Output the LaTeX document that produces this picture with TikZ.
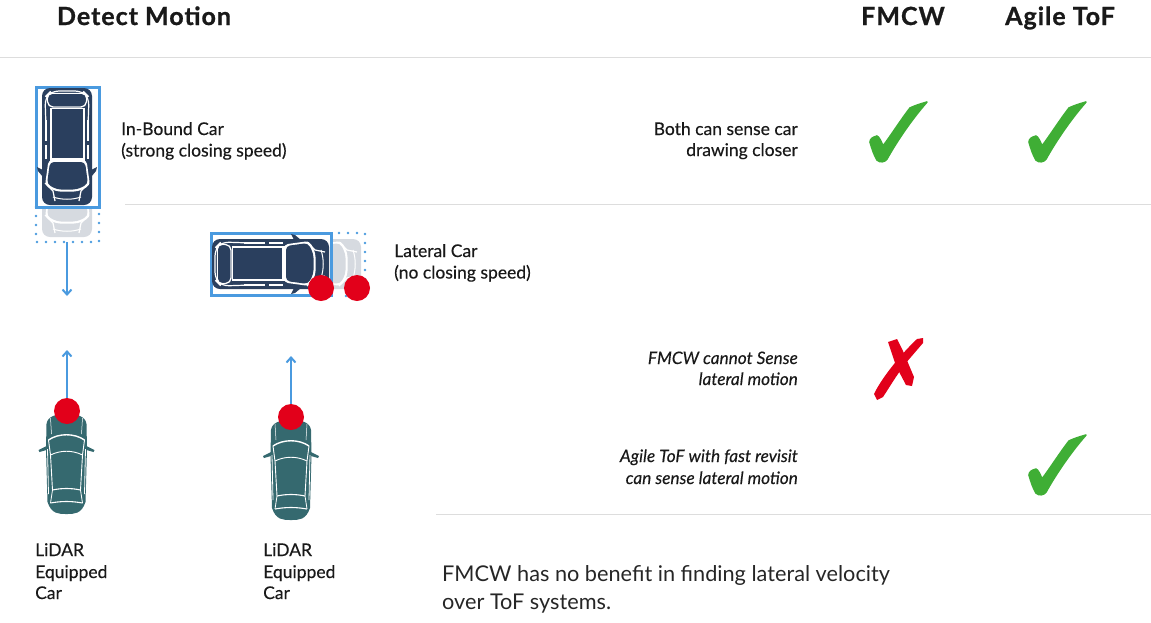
\documentclass[tikz,border=0pt]{standalone}
\usepackage{fontspec}
\setmainfont{Lato}
\newfontfamily\medf{Lato}[FakeBold=0.35]
\newfontfamily\medit{Lato Italic}[FakeBold=0.25]
\newfontfamily\headf{Lato Bold}[FakeBold=0.9,LetterSpace=4]
\usetikzlibrary{arrows.meta}
\definecolor{navy}{HTML}{2A3F5E}
\definecolor{ghostc}{HTML}{D6DAE0}
\definecolor{teal}{HTML}{35696F}
\definecolor{bluec}{HTML}{4A9ADF}
\definecolor{redc}{HTML}{E2001A}
\definecolor{greenc}{HTML}{3FAE35}
\definecolor{rulec}{HTML}{DDDDDD}
\tikzset{
  x=1pt,y=-1pt,
  every node/.style={inner sep=0pt},
  head/.style={anchor=base,font=\fontsize{25}{25}\headf,text=black!90},
  lbl/.style={anchor=base west,font=\fontsize{17.5}{17.5}\medf,text=black!90},
  rlbl/.style={anchor=base east,font=\fontsize{17.5}{17.5}\medf,text=black!90},
  ilbl/.style={anchor=base east,font=\fontsize{17.2}{17.2}\medit,text=black!90},
  foot/.style={anchor=base west,font=\fontsize{21.7}{21.7}\selectfont,text=black!85},
  hrule/.style={draw=rulec,line width=0.9pt},
  sensebox/.style={draw=bluec,line width=3pt,inner sep=0pt,fill=white},
  dots/.style={draw=bluec,line width=2.8pt,line cap=round,dash pattern=on 0pt off 9pt},
  flow/.style={draw=bluec,line width=2pt,-{Straight Barb[length=5pt,width=9pt,line width=2pt]}},
  dot/.style={circle,fill=redc,inner sep=0pt,minimum size=26pt},
  pics/suv/.style={code={
    \fill[#1] (-24,23) -- (-30,20) -- (-29,24) -- (-24,30) -- cycle;
    \fill[#1] (24,23) -- (30,20) -- (29,24) -- (24,30) -- cycle;
    \fill[#1,rounded corners=8pt] (-25,-59) rectangle (25,58);
    % white frame around the cabin
    \draw[white,line width=1.2pt,rounded corners=8pt] (-21,-20) -- (-22,-50) -- (-16,-56) -- (16,-56) -- (22,-50) -- (21,-20);
    \draw[white,line width=1.3pt,rounded corners=5pt] (-20,-53.5) -- (20,-53.5) -- (19,-40) -- (-19,-40) -- cycle;
    \fill[#1,rounded corners=5pt] (-19,-53) -- (19,-53) -- (18,-41) -- (-18,-41) -- cycle;
    \fill[white] (-17,-39) rectangle (18,13.5);
    \fill[#1] (-15,-38) rectangle (16,11);
    \fill[white,rounded corners=4pt] (-18.5,13) -- (19.5,13) -- (23,38.5) -- (11,44.5) -- (-11,44.5) -- (-22,38.5) -- cycle;
    \fill[#1,rounded corners=4pt] (-17,15) -- (18,15) -- (21,37) -- (10,42.5) -- (-10,42.5) -- (-20,37) -- cycle;
    \draw[white,line width=1.8pt] (-21,-27) -- (-21,-6) (-21,-2) -- (-21,12) (21,-27) -- (21,-6) (21,-2) -- (21,12);
    % front end
    \draw[white,line width=1.2pt] (-22,36) -- (-14,44) -- (-12,54) (22,36) -- (14,44) -- (12,54);
    \draw[white,line width=1pt] (-14,50) .. controls (-5,53) and (5,53) .. (14,50);
  }},
  pics/sedan/.style={code={
    \fill[teal] (-20,-18) -- (-28,-14) -- (-27,-12) -- (-20,-14) -- cycle;
    \fill[teal] (20,-18) -- (28,-14) -- (27,-12) -- (20,-14) -- cycle;
    \fill[teal] (-20,-40) .. controls (-19,-48) and (-10,-50) .. (0,-50) .. controls (10,-50) and (19,-48) .. (20,-40)
      -- (20.5,-15) -- (19,38) .. controls (15,50) and (8,50) .. (0,50) .. controls (-8,50) and (-15,50) .. (-19,38) -- (-20.5,-15) -- cycle;
    \draw[white,line width=1.4pt] (-18,-24) .. controls (-8,-31) and (8,-31) .. (18,-24);
    \draw[white,line width=.9pt] (-16,-9) .. controls (-6,-14) and (6,-14) .. (16,-9);
    \draw[white,line width=.9pt] (-18,-24) -- (-16,-9) -- (-14,26) (18,-24) -- (16,-9) -- (14,26);
    \draw[white,line width=1.1pt] (-14,26) .. controls (-5,24) and (5,24) .. (14,26);
    \draw[white,line width=1.1pt] (-16,39) .. controls (-5,37) and (5,37) .. (16,39);
    \draw[white,line width=.8pt] (-14,26) -- (-16,39) (14,26) -- (16,39);
    \draw[white,line width=.8pt] (-19,-15) -- (-18,30) (19,-15) -- (18,30);
    \draw[white,line width=.5pt] (-16,-46) -- (-15,-30) (16,-46) -- (15,-30);
  }},
  pics/tick/.style={code={
    \fill[greenc,draw=greenc,line width=1.6pt,line join=round] (57,1) .. controls (50,3) and (44,5) .. (40,7) .. controls (30,20) and (22,33) .. (13,45)
      .. controls (11,40) and (9,36) .. (7,35) .. controls (3,36) and (0,38) .. (0,41)
      .. controls (2,48) and (4,54) .. (7,59) .. controls (10,62) and (15,61) .. (17,58)
      .. controls (27,40) and (42,18) .. (57,1) -- cycle;
  }}
}
\begin{document}
\begin{tikzpicture}
\useasboundingbox (0,0) rectangle (1151,622);
% rules
\coordinate (r1a) at (0,57); \coordinate (r1b) at (1151,57);
\coordinate (r2a) at (125,204); \coordinate (r2b) at (1151,204);
\coordinate (r3a) at (436,514); \coordinate (r3b) at (1151,514);
\draw[hrule] (r1a) -- (r1b);
\draw[hrule] (r2a) -- (r2b);
\draw[hrule] (r3a) -- (r3b);
% headers
\node[head] (hd1) at (144,25) {Detect Motion};
\node[head] (hd2) at (903,25) {FMCW};
\node[head] (hd3) at (1060,25) {Agile ToF};
% in-bound car
\pic at (67,179) {suv=ghostc};
\draw[dots] (36,207) -- (36,242) -- (99,242) -- (99,207);
\node[sensebox,minimum width=63pt,minimum height=120pt] (box1) at (67.5,147) {};
\pic at (67,147) {suv=navy};
\node[lbl] (t1) at (121,135) {In-Bound Car};
\node[lbl] (t2) at (121,156.5) {(strong closing speed)};
\coordinate (g1) at (67,242);
\coordinate (e1) at (67,296);
\draw[flow] (g1) -- (e1);
% lateral car
\pic[rotate=90] at (303,264) {suv=ghostc};
\draw[dots] (339,233) -- (365,233) -- (365,296) -- (339,296);
\node[sensebox,minimum width=120pt,minimum height=62pt] (box2) at (271,264) {};
\pic[rotate=90] at (271,264) {suv=navy};
\node[dot] (d3) at (321,288) {};
\node[dot] (d4) at (357,288) {};
\node[lbl] (t3) at (394,257) {Lateral Car};
\node[lbl] (t4) at (394,278.5) {(no closing speed)};
% lidar cars
\coordinate (e2) at (67,350);
\coordinate (e3) at (291,356);
\pic at (66.5,464) {sedan};
\pic at (291,470) {sedan};
\node[dot] (d1) at (67,411) {};
\node[dot] (d2) at (291,417) {};
\draw[flow] (d1) -- (e2);
\draw[flow] (d2) -- (e3);
\foreach \nm/\px in {a/35,b/263}{
  \node[lbl] (l\nm1) at (\px,556) {LiDAR};
  \node[lbl] (l\nm2) at (\px,578) {Equipped};
  \node[lbl] (l\nm3) at (\px,599) {Car};
}
% right column text
\node[rlbl] (c1) at (798,135) {Both can sense car};
\node[rlbl] (c2) at (798,156) {drawing closer};
\node[ilbl] (c3) at (798,364) {FMCW cannot Sense};
\node[ilbl] (c4) at (798,385) {lateral motion};
\node[ilbl] (c5) at (798,462) {Agile ToF with fast revisit};
\node[ilbl] (c6) at (798,484) {can sense lateral motion};
\node[foot] (f1) at (442,581) {FMCW has no benefit in finding lateral velocity};
\node[foot] (f2) at (442,609) {over ToF systems.};
% marks
\pic at (870,101) {tick};
\pic at (1029,101) {tick};
\pic at (1029,434) {tick};
\fill[redc] (888,342) -- (897,339) -- (903,351) -- (914,377) -- (912,386) -- (906,385) -- (896,366) -- cycle;
\fill[redc] (917,339) -- (923,338) -- (923,343) -- (905,364) .. controls (896,376) and (889,388) .. (883,397) -- (877,400) -- (874,394) .. controls (881,379) and (900,355) .. (917,339) -- cycle;
\end{tikzpicture}
\end{document}
